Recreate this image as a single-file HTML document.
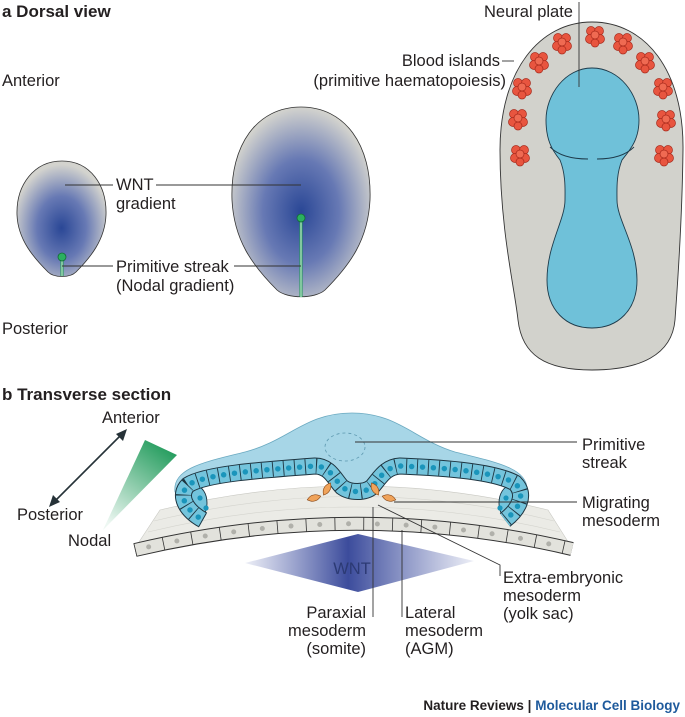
<!DOCTYPE html>
<html><head><meta charset="utf-8"><style>
html,body{margin:0;padding:0;background:#fff}
svg{display:block}
text{font-family:"Liberation Sans",sans-serif;font-size:16.5px;fill:#231f20}
.b{font-weight:bold}
</style></head><body>
<svg width="685" height="717" viewBox="0 0 685 717" xmlns="http://www.w3.org/2000/svg">
<defs>
<radialGradient id="g1" cx="0.5" cy="0.58" r="0.55">
<stop offset="0" stop-color="#2a4796"/><stop offset="0.5" stop-color="#6779b4"/><stop offset="1" stop-color="#d3d3ce"/></radialGradient>
<radialGradient id="g2" cx="0.5" cy="0.55" r="0.55">
<stop offset="0" stop-color="#2a4796"/><stop offset="0.5" stop-color="#6779b4"/><stop offset="1" stop-color="#d3d3ce"/></radialGradient>
<linearGradient id="gn" x1="0.8" y1="0" x2="0.2" y2="1">
<stop offset="0" stop-color="#1f9a5a"/><stop offset="1" stop-color="#1f9a5a" stop-opacity="0.08"/></linearGradient>
<linearGradient id="gw" x1="0" y1="0" x2="1" y2="0">
<stop offset="0" stop-color="#4a5aa8" stop-opacity="0.1"/><stop offset="0.45" stop-color="#3c4c9c"/><stop offset="1" stop-color="#4a5aa8" stop-opacity="0.1"/></linearGradient>
<g id="bi">
<circle cx="-4" cy="-5" r="4.5" fill="#e8553f" stroke="#a82a1c" stroke-width="0.7"/>
<circle cx="4" cy="-5" r="4.5" fill="#e8553f" stroke="#a82a1c" stroke-width="0.7"/>
<circle cx="-5" cy="3" r="4.5" fill="#e8553f" stroke="#a82a1c" stroke-width="0.7"/>
<circle cx="5" cy="3" r="4.5" fill="#e8553f" stroke="#a82a1c" stroke-width="0.7"/>
<circle cx="0" cy="7" r="4" fill="#e8553f" stroke="#a82a1c" stroke-width="0.7"/>
<circle cx="0" cy="-1" r="4" fill="#ef6a52" stroke="#a82a1c" stroke-width="0.7"/>
</g>
<g id="mc"><path d="M-7,0 Q-3,-3.5 0,-3 Q3,-3.5 7,0 Q3,3.5 0,3 Q-3,3.5 -7,0Z" fill="#f0a35a" stroke="#8a4a1a" stroke-width="0.6"/></g>
</defs>

<text x="2" y="17" class="b" style="font-size:17px">a  Dorsal view</text>
<text x="2" y="86">Anterior</text>
<text x="2" y="334">Posterior</text>

<!-- small embryo -->
<path d="M62,161 C90,161 107,185 106,215 C105,240 90,258 76,272 C70,278 54,278 48,272 C34,258 18,240 17,215 C16,185 34,161 62,161Z" fill="url(#g1)" stroke="#333" stroke-width="0.8"/>
<line x1="62" y1="258" x2="62" y2="276" stroke="#1a9a50" stroke-width="3"/>
<line x1="62" y1="258" x2="62" y2="276" stroke="#e8f5ec" stroke-width="1"/>
<circle cx="62" cy="257" r="4" fill="#2bb060" stroke="#136b35" stroke-width="0.8"/>
<!-- big embryo -->
<path d="M301,107 C345,107 372,145 370,200 C368,240 350,265 325,290 C315,299 287,299 277,290 C252,265 234,240 232,200 C230,145 257,107 301,107Z" fill="url(#g2)" stroke="#333" stroke-width="0.8"/>
<line x1="301" y1="220" x2="301" y2="297" stroke="#1a9a50" stroke-width="3"/>
<line x1="301" y1="220" x2="301" y2="297" stroke="#e8f5ec" stroke-width="1"/>
<circle cx="301" cy="218" r="4" fill="#2bb060" stroke="#136b35" stroke-width="0.8"/>
<g stroke="#333" stroke-width="0.9">
<line x1="65" y1="185" x2="113" y2="185"/><line x1="156" y1="185" x2="301" y2="185"/>
<line x1="62" y1="266" x2="113" y2="266"/><line x1="234" y1="266" x2="301" y2="266"/>
</g>
<text x="116" y="190">WNT</text>
<text x="116" y="209">gradient</text>
<text x="116" y="272">Primitive streak</text>
<text x="116" y="291">(Nodal gradient)</text>

<!-- right embryo -->
<path d="M592,22 C645,22 684,70 683,150 C682,230 677,290 675,320 C672,355 640,370 592,370 C545,370 522,355 518,320 C515,290 500,230 500,150 C500,70 540,22 592,22Z" fill="#d2d2cc" stroke="#333" stroke-width="0.9"/>
<path d="M592,68 C620,68 639,95 639,120 C639,140 630,150 622,160 C616,175 617,190 617,200 C617,220 637,245 637,280 C637,310 618,328 592,328 C566,328 547,310 547,280 C547,245 565,220 565,200 C565,190 566,175 560,160 C552,150 546,140 546,120 C546,95 565,68 592,68Z" fill="#6fc1d9" stroke="#1d3a4a" stroke-width="0.9"/>
<path d="M550,147 Q562,159 588,159 M597,159 Q622,159 634,147" fill="none" stroke="#1d3a4a" stroke-width="0.9"/>
<line x1="579" y1="2" x2="579" y2="87" stroke="#333" stroke-width="0.9"/>
<line x1="502" y1="61" x2="514" y2="61" stroke="#333" stroke-width="0.9"/>
<text x="573" y="17" text-anchor="end">Neural plate</text>
<text x="500" y="66" text-anchor="end">Blood islands</text>
<text x="506" y="86" text-anchor="end">(primitive haematopoiesis)</text>
<use href="#bi" x="562" y="43"/><use href="#bi" x="595" y="36"/><use href="#bi" x="623" y="43"/>
<use href="#bi" x="539" y="62"/><use href="#bi" x="645" y="62"/>
<use href="#bi" x="522" y="88"/><use href="#bi" x="663" y="88"/>
<use href="#bi" x="518" y="119"/><use href="#bi" x="666" y="120"/>
<use href="#bi" x="520" y="155"/><use href="#bi" x="664" y="155"/>

<!-- b -->
<text x="2" y="400" class="b" style="font-size:17px">b  Transverse section</text>
<text x="102" y="423">Anterior</text>
<text x="17" y="520">Posterior</text>
<text x="68" y="546">Nodal</text>
<line x1="54" y1="502" x2="122" y2="434" stroke="#263238" stroke-width="1.6"/>
<polygon points="127,429 123,441 116,434" fill="#263238"/>
<polygon points="49,507 53,495 60,502" fill="#263238"/>
<polygon points="145,440 177,455 103,530" fill="url(#gn)"/>

<!-- WNT diamond -->
<polygon points="245,563 358,534 474,561 358,592" fill="url(#gw)"/>
<text x="352" y="574" text-anchor="middle" style="fill:#2c3a74">WNT</text>

<!-- grey layer -->
<path d="M135,548 Q355,496 572,548 L548,510 Q355,462 160,510 Z" fill="#ebebe6" stroke="#c8c8c2" stroke-width="0.6"/>
<path d="M148,532 Q355,482 560,532 M154,521 Q355,472 554,521" fill="none" stroke="#d4d4ce" stroke-width="0.6"/>
<path d="M135,550 Q355,498 572,549" fill="none" stroke="#333" stroke-width="14"/>
<path d="M135,550 Q355,498 572,549" fill="none" stroke="#e2e2dc" stroke-width="12"/>
<path d="M135,550 Q355,498 572,549" fill="none" stroke="#333" stroke-width="13" stroke-dasharray="0.8 28"/>
<path d="M135,550 Q355,498 572,549" fill="none" stroke="#b0b0aa" stroke-width="5" stroke-linecap="round" stroke-dasharray="0 28.8" stroke-dashoffset="-14"/>

<!-- dome -->
<path d="M175,492 C172,468 205,462 245,452 C290,440 305,413 352,413 C398,413 415,440 455,452 C495,462 528,468 527,490 L505,520 C518,510 527,495 515,483 C495,472 450,468 400,466 C385,467 380,478 372,487 C365,493 350,493 342,487 C335,480 330,466 315,466 C260,470 205,474 188,485 C178,495 185,510 203,520 Z" fill="#a2d4e6" fill-opacity="0.95" stroke="#6aa9c0" stroke-width="0.8"/>
<ellipse cx="345" cy="447" rx="20" ry="14" fill="none" stroke="#5b97ae" stroke-dasharray="3 3" stroke-width="0.8"/>
<!-- curl thickening -->
<g fill="#74c4dc" stroke="#1d3440" stroke-width="0.9">
<ellipse cx="196" cy="503" rx="11" ry="17"/>
<ellipse cx="510" cy="503" rx="11" ry="17"/>
</g>
<path d="M203,520 C185,510 178,495 188,485 C205,474 260,470 315,466 C330,466 335,480 342,487 C350,493 365,493 372,487 C380,478 385,467 400,466 C450,468 495,472 515,483 C527,495 518,510 505,520" fill="none" stroke="#1d3440" stroke-width="17"/>
<path d="M203,520 C185,510 178,495 188,485 C205,474 260,470 315,466 C330,466 335,480 342,487 C350,493 365,493 372,487 C380,478 385,467 400,466 C450,468 495,472 515,483 C527,495 518,510 505,520" fill="none" stroke="#74c4dc" stroke-width="15"/>
<path d="M203,520 C185,510 178,495 188,485 C205,474 260,470 315,466 C330,466 335,480 342,487 C350,493 365,493 372,487 C380,478 385,467 400,466 C450,468 495,472 515,483 C527,495 518,510 505,520" fill="none" stroke="#1d3440" stroke-width="15" stroke-dasharray="0.9 10"/>
<path d="M203,520 C185,510 178,495 188,485 C205,474 260,470 315,466 C330,466 335,480 342,487 C350,493 365,493 372,487 C380,478 385,467 400,466 C450,468 495,472 515,483 C527,495 518,510 505,520" fill="none" stroke="#1a95bb" stroke-width="5.5" stroke-linecap="round" stroke-dasharray="0 10.9" stroke-dashoffset="-5.5"/>
<g fill="#1a95bb"><circle cx="200" cy="498" r="2.6"/><circle cx="206" cy="508" r="2.6"/><circle cx="506" cy="498" r="2.6"/><circle cx="500" cy="508" r="2.6"/></g>

<!-- migrating mesoderm -->
<use href="#mc" transform="translate(314,498) rotate(-15)"/>
<use href="#mc" transform="translate(327,489) rotate(-60)"/>
<use href="#mc" transform="translate(375,489) rotate(60)"/>
<use href="#mc" transform="translate(389,498) rotate(15)"/>

<g stroke="#333" stroke-width="0.9" fill="none">
<line x1="355" y1="442" x2="577" y2="442"/>
<line x1="394" y1="502" x2="577" y2="502"/>
<line x1="373" y1="507" x2="373" y2="617"/>
<line x1="402" y1="530" x2="402" y2="617"/>
<polyline points="378,505 500,565 500,576"/>
</g>
<text x="582" y="450">Primitive</text>
<text x="582" y="468">streak</text>
<text x="582" y="508">Migrating</text>
<text x="582" y="526">mesoderm</text>
<text x="503" y="583">Extra-embryonic</text>
<text x="503" y="601">mesoderm</text>
<text x="503" y="619">(yolk sac)</text>
<text x="366" y="618" text-anchor="end">Paraxial</text>
<text x="366" y="636" text-anchor="end">mesoderm</text>
<text x="366" y="654" text-anchor="end">(somite)</text>
<text x="405" y="618">Lateral</text>
<text x="405" y="636">mesoderm</text>
<text x="405" y="654">(AGM)</text>

<text x="680" y="710" text-anchor="end" class="b" style="font-size:13.5px">Nature Reviews | <tspan style="fill:#1e5a9c">Molecular Cell Biology</tspan></text>
</svg>
</body></html>
